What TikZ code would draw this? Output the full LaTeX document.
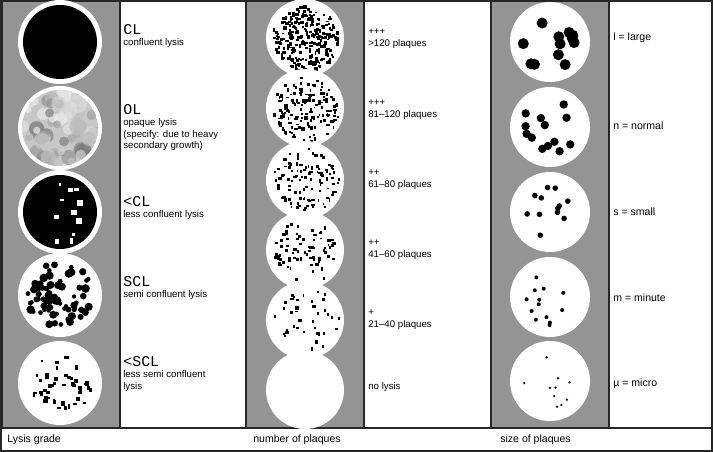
\documentclass[tikz,border=0pt]{standalone}
\usepackage{fontspec}
\setmainfont{Liberation Sans}
\setmonofont{Liberation Mono}
\usetikzlibrary{calc}
\newcommand\grd[1]{{\ttfamily\fontsize{8.5}{9.5}\selectfont #1}}
\begin{document}
\begin{tikzpicture}[x=0.02cm,y=-0.02cm,
  panel/.style={fill=black!42,draw=black!85,line width=1pt},
  dish/.style={fill=white},
  lbl/.style={anchor=north west,font=\fontsize{5.5}{6.5}\selectfont,align=left,inner sep=0pt},
  captxt/.style={font=\fontsize{6}{7}\selectfont,anchor=west,inner sep=0pt}]
\pgfmathsetseed{7}
\useasboundingbox (0,0) rectangle (713,452);
\draw[line width=1.2pt,draw=black!85] (1,1) rectangle (712,451);
\draw[line width=1.2pt,draw=black!85] (1,428) -- (712,428);
\foreach \x in {2,246,491}{\draw[panel] (\x,1) rectangle ++(118,427);}
% left column
\node[dish,circle,minimum size=84*0.02cm,inner sep=0pt] (c1) at (60,42) {};
\fill[black] (60,42) circle (37);
\node[dish,circle,minimum size=84*0.02cm,inner sep=0pt] (c2) at (60,128) {};
\begin{scope}
\clip (60,128) circle (38);
\fill[black!22] (60,128) circle (38);
\foreach \i in {1,...,70}{\pgfmathsetmacro\a{rnd*360}\pgfmathsetmacro\r{sqrt(rnd)*38}\pgfmathsetmacro\g{5+rnd*50}
 \fill[black!\g,opacity=0.7] ($(60,128)+(\a:\r)$) circle ({3+rnd*6});}
\end{scope}
\node[dish,circle,minimum size=84*0.02cm,inner sep=0pt] (c3) at (60,212) {};
\fill[black] (60,212) circle (37);
\foreach \i in {1,...,12}{\pgfmathsetmacro\a{rnd*360}\pgfmathsetmacro\r{sqrt(rnd)*30}
 \fill[white] ($(60,212)+(\a:\r)$) rectangle ++({2+rnd*4},{2+rnd*4});}
\node[dish,circle,minimum size=84*0.02cm,inner sep=0pt] (c4) at (60,295) {};
\foreach \i in {1,...,75}{\pgfmathsetmacro\a{rnd*360}\pgfmathsetmacro\r{sqrt(rnd)*33}
 \fill[black] ($(60,295)+(\a:\r)$) circle ({2+rnd*2.5});}
\node[dish,circle,minimum size=84*0.02cm,inner sep=0pt] (c5) at (60,383) {};
\foreach \i in {1,...,45}{\pgfmathsetmacro\a{rnd*360}\pgfmathsetmacro\r{sqrt(rnd)*30}
 \fill[black] ($(60,383)+(\a:\r)$) rectangle ++({2+rnd*2.5},{2+rnd*2.5});}
\node[lbl] (t1) at (123,24) {\grd{CL}\\confluent lysis};
\node[lbl] (t2) at (123,104) {\grd{OL}\\opaque lysis\\(specify: due to heavy\\secondary growth)};
\node[lbl] (t3) at (123,196) {\grd{<CL}\\less confluent lysis};
\node[lbl] (t4) at (123,276) {\grd{SCL}\\semi confluent lysis};
\node[lbl] (t5) at (123,356) {\grd{<SCL}\\less semi confluent\\lysis};
% middle column
\foreach \y/\n/\s in {38/260/1.6,108/150/1.6,180/110/1.5,250/75/1.6,320/40/1.6,390/0/1}{
 \node[dish,circle,minimum size=78*0.02cm,inner sep=0pt] at (305,\y) {};
 \ifnum\n>0
 \foreach \i in {1,...,\n}{\pgfmathsetmacro\a{rnd*360}\pgfmathsetmacro\r{sqrt(rnd)*33}
  \fill[black] ($(305,\y)+(\a:\r)$) rectangle ++({\s+rnd*2},{\s+rnd*2});}
 \fi}
\node[lbl] (m1) at (368,29) {+++\\>120 plaques};
\node[lbl] (m2) at (368,100) {+++\\81--120 plaques};
\node[lbl] (m3) at (368,170) {++\\61--80 plaques};
\node[lbl] (m4) at (368,240) {++\\41--60 plaques};
\node[lbl] (m5) at (368,310) {+\\21--40 plaques};
\node[lbl] (m6) at (368,382) {no lysis};
% right column
\foreach \y/\n/\s in {42/12/5.5,127/13/4.2,212/12/2.8,297/13/2,381/10/1.3}{
 \node[dish,circle,minimum size=80*0.02cm,inner sep=0pt] at (550,\y) {};
 \foreach \i in {1,...,\n}{\pgfmathsetmacro\a{rnd*360}\pgfmathsetmacro\r{sqrt(rnd)*29}
  \fill[black] ($(550,\y)+(\a:\r)$) circle (\s);}}
\node[captxt] (r1) at (613,38) {l = large};
\node[captxt] (r2) at (613,126) {n = normal};
\node[captxt] (r3) at (613,212) {s = small};
\node[captxt] (r4) at (613,298) {m = minute};
\node[captxt] (r5) at (613,384) {µ = micro};
% captions
\node[captxt] (b1) at (7,440) {Lysis grade};
\node[captxt] (b2) at (253,440) {number of plaques};
\node[captxt] (b3) at (500,440) {size of plaques};
\end{tikzpicture}
\end{document}
